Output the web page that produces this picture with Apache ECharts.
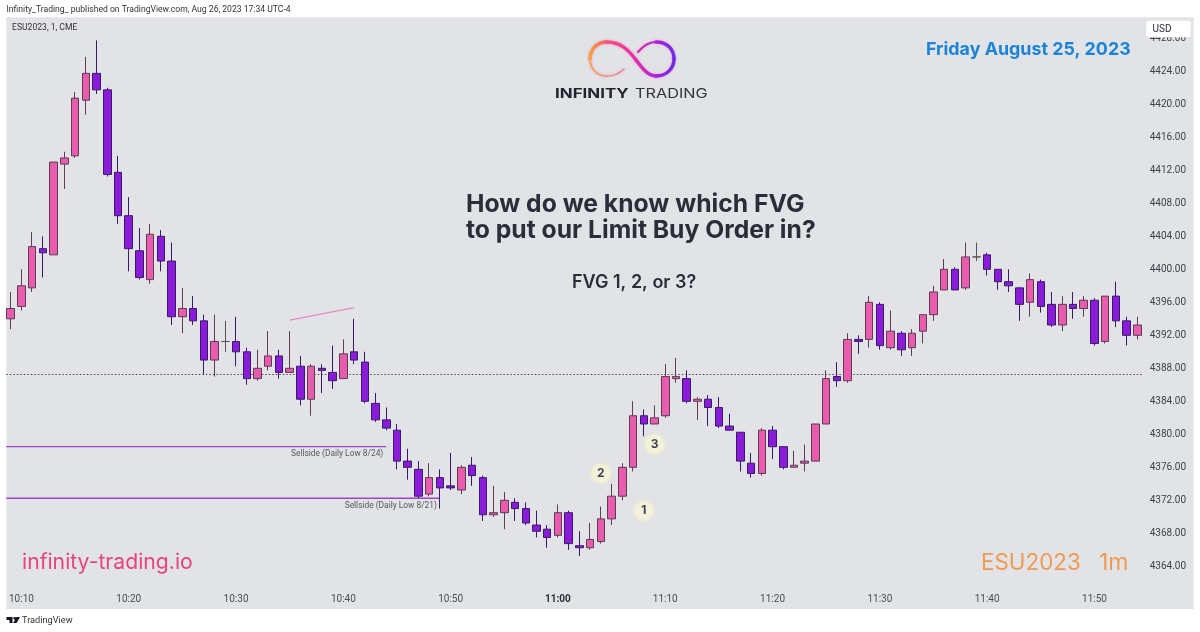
<!DOCTYPE html>
<html><head><meta charset="utf-8">
<style>html,body{margin:0;padding:0;background:#fff}#c{width:1200px;height:632px}</style>
<script src="https://cdn.jsdelivr.net/npm/echarts@6/dist/echarts.min.js"></script>
</head><body><div id="c"></div>
<script>
const times=["10:09","10:10","10:11","10:12","10:13","10:14","10:15","10:16","10:17","10:18","10:19","10:20","10:21","10:22","10:23","10:24","10:25","10:26","10:27","10:28","10:29","10:30","10:31","10:32","10:33","10:34","10:35","10:36","10:37","10:38","10:39","10:40","10:41","10:42","10:43","10:44","10:45","10:46","10:47","10:48","10:49","10:50","10:51","10:52","10:53","10:54","10:55","10:56","10:57","10:58","10:59","11:00","11:01","11:02","11:03","11:04","11:05","11:06","11:07","11:08","11:09","11:10","11:11","11:12","11:13","11:14","11:15","11:16","11:17","11:18","11:19","11:20","11:21","11:22","11:23","11:24","11:25","11:26","11:27","11:28","11:29","11:30","11:31","11:32","11:33","11:34","11:35","11:36","11:37","11:38","11:39","11:40","11:41","11:42","11:43","11:44","11:45","11:46","11:47","11:48","11:49","11:50","11:51","11:52","11:53","11:54"];
const opens=[4394,4395.5,4397.75,4402.5,4401.75,4412.75,4413.75,4420.5,4423.75,4421.75,4411.75,4406.5,4402.25,4398.75,4404,4401,4394.25,4395.25,4393.75,4389,4391.25,4391.25,4390,4386.75,4388.25,4389.5,4387.5,4388.25,4384.25,4388,4387.5,4386.75,4390,4388.75,4383.75,4381.75,4380.5,4376.75,4375.75,4372.75,4374.75,4373.75,4373.25,4376.25,4374.75,4370.25,4370.5,4371.75,4371,4369,4368.5,4367.75,4370.5,4366.5,4366.25,4367,4369.75,4372.5,4376,4382.25,4381.25,4382.25,4386.75,4386.75,4384,4384.25,4383.25,4381,4380.25,4376.5,4375.25,4380.5,4378.5,4376,4376.5,4376.75,4381.25,4387,4386.5,4391.5,4391.5,4395.75,4390.5,4392.25,4390.5,4392.5,4394.5,4397.5,4400,4397.75,4401.5,4401.75,4400,4398.5,4397.75,4396,4398.5,4395.75,4393.25,4395.75,4395.25,4396.25,4391.25,4396.75,4393.75,4392];
const closes=[4395.25,4398,4402.75,4402,4413,4413.5,4420.75,4423.75,4421.75,4411.5,4406.5,4402.5,4399,4404.25,4401,4394.25,4395.25,4393.75,4389,4391.25,4391.25,4390,4386.75,4388,4389.5,4387.5,4388,4384.25,4388.25,4387.75,4386.5,4389.75,4389,4384,4381.75,4380.75,4376.75,4376,4372.5,4374.75,4373.5,4373.5,4376,4375,4370.25,4370.5,4372,4371,4369.25,4368.25,4367.5,4370.5,4366.75,4366.25,4367.25,4369.75,4372.5,4376,4382.25,4381.25,4382,4387,4387,4384,4384.25,4383.25,4381,4380.5,4376.75,4375.25,4380.5,4378.5,4376,4376.25,4376.75,4381.25,4386.75,4386.5,4391.5,4391.25,4396,4390.75,4392.5,4390.25,4392.25,4394.5,4397.25,4400,4397.5,4401.5,4401.5,4400,4398.5,4398,4395.75,4398.75,4395.5,4393.25,4395.75,4395.25,4396.25,4391,4396.75,4393.75,4392,4393.25];
const lows=[4392.75,4395,4397.25,4399,4401.75,4409.75,4413.5,4418.75,4421.25,4411.25,4405.5,4399.75,4398.75,4398.25,4399.75,4393.25,4392.25,4393.25,4387.25,4387,4390,4388.25,4386,4386.5,4387.75,4386.75,4387.5,4383.5,4382.25,4385,4385.5,4386.75,4388.5,4383.75,4381.5,4380.5,4375.75,4374.5,4372.25,4372.5,4371,4373.25,4372.75,4373.75,4369.5,4370,4368.5,4369.5,4369,4367.5,4366.25,4367.5,4366,4365.25,4366,4366.75,4369,4372,4375.5,4379.75,4381.25,4382,4386.25,4383.75,4381.75,4381,4380.75,4380.5,4375.5,4374.75,4375,4377,4375.75,4376,4375.5,4376.75,4381.25,4385.75,4386.25,4389.75,4390.5,4390.25,4390.25,4389.5,4389.5,4391,4393.75,4397.5,4397.5,4397.5,4401,4399.25,4397.5,4397.25,4393.75,4394.25,4394.75,4393,4392.5,4394,4394.25,4390.75,4391,4393,4390.75,4391.5];
const highs=[4397.25,4400,4404.5,4404,4413,4414.25,4421.5,4425.75,4427.75,4422,4413.75,4408.75,4405,4405.5,4404.75,4403.25,4397.75,4396.75,4394.5,4394.5,4393.75,4394.25,4390.5,4390.25,4392.5,4390.25,4392.5,4389.5,4388.5,4388.5,4390.75,4391.5,4394,4390,4385,4383.25,4381.25,4378.25,4376.75,4376.5,4375.75,4377.75,4376.25,4377.25,4375,4373.75,4373,4372.25,4371.75,4370.75,4369,4371.5,4370.75,4368.25,4369.25,4371.25,4374,4376.5,4384,4383,4383.5,4388.5,4389.25,4387.75,4384.5,4384.75,4384.5,4382.5,4380.25,4377.75,4380.75,4381,4378.5,4378,4378.75,4381.25,4387.75,4388.75,4392.25,4392,4396.75,4396,4395,4392.5,4392.75,4394.5,4398,4401.25,4400.25,4403.25,4403.25,4402,4400,4400,4397.75,4399.5,4398.75,4397.25,4396.75,4397.25,4396.75,4396.5,4396.75,4398.5,4394.25,4394.25];
const lastPrice=4387.25;
const sellsideLevels=[4378.5,4372.25];
const sellsideEnds=["10:44","10:49"];
const sellsideNames=["Sellside (Daily Low 8/24)","Sellside (Daily Low 8/21)"];
const fvgLabels=["1","2","3"];
const fvgTimes=["11:08","11:04","11:09"];
const fvgPrices=[4370.75,4375.25,4378.75];
const trendTimes=["10:35","10:41"];
const trendPrices=[4393.85,4395.35];

const FONT='Inter';
const SMALL='Roboto';
const chart=echarts.init(document.getElementById('c'));
const txt=(x,y,text,size,color,weight,extra,fam)=>Object.assign({type:'text',x,y,z:100,silent:true,
  style:{text,font:`${weight||400} ${size}px ${fam||FONT}`,fill:color,verticalAlign:'middle'}},extra||{});
const mainGrad=new echarts.graphic.LinearGradient(590,0,675,0,[{offset:0,color:'#f9a23c'},{offset:0.22,color:'#f4527a'},{offset:0.5,color:'#ec2fa4'},{offset:0.75,color:'#b022d8'},{offset:1,color:'#6a2be8'}],true);
const thinGrad=new echarts.graphic.LinearGradient(590,0,624,0,[{offset:0,color:'#f9a23c'},{offset:1,color:'#f07a9a'}],true);
const curve=(pts,stroke,w)=>({type:'bezierCurve',z:100,silent:true,
  shape:{x1:pts[0],y1:pts[1],cpx1:pts[2],cpy1:pts[3],cpx2:pts[4],cpy2:pts[5],x2:pts[6],y2:pts[7]},
  style:{fill:null,stroke,lineWidth:w,lineCap:'round',shadowBlur:3,shadowColor:'rgba(236,80,190,0.45)'}});
chart.setOption({
  animation:false,
  backgroundColor:'#ffffff',
  textStyle:{fontFamily:FONT},
  grid:{left:5.35,top:38.3,width:1137.4,height:528,show:false},
  xAxis:{type:'category',data:times,boundaryGap:true,
    axisLine:{show:false},axisTick:{show:false},splitLine:{show:false},
    axisLabel:{interval:(i)=>(i-1)%10===0,margin:28,fontSize:10,color:'#4a4d55',fontFamily:SMALL,hideOverlap:false,
      formatter:(v)=>v==='11:00'?'{b|11:00}':v,rich:{b:{fontWeight:700,fontSize:10,color:'#2a2e39',fontFamily:SMALL}}}},
  yAxis:{type:'value',position:'right',min:4364,max:4428,interval:4,scale:true,
    axisLine:{show:false},axisTick:{show:false},splitLine:{show:false},
    axisLabel:{margin:7,fontSize:10,color:'#3f424a',fontFamily:SMALL,padding:[3,0,0,0],formatter:(v)=>v.toFixed(2)}},
  graphic:[
    {type:'rect',z:-100,silent:true,shape:{x:6.3,y:17.3,width:1187.4,height:591.7},style:{fill:'#e1e3e6'}},
    txt(6.5,10,'Infinity_Trading_ published on TradingView.com, Aug 26, 2023 17:34 UTC-4',8.6,'#333',400,null,SMALL),
    txt(12,28,'ESU2023, 1, CME',8.6,'#333',400,null,SMALL),
    {type:'rect',z:100,silent:true,shape:{x:1146.3,y:20.7,width:44.5,height:16.6,r:3},style:{fill:'#ffffff'}},
    txt(1152.5,29,'USD',10,'#2a2e39',400,{z:101},SMALL),
    txt(926,50,'Friday August 25, 2023',17.85,'#1b84d8',700),
    curve([590,59,590,49,597,42,607,42],mainGrad,3.4),
    curve([607,42,622,42,630,52,636,60],mainGrad,3.4),
    curve([636,60,642,68,648,76,656,76],mainGrad,3.4),
    curve([656,76,667,76,674,68,674,59],mainGrad,3.4),
    curve([674,59,674,49,667,42,656,42],mainGrad,3.4),
    curve([656,42,649,42,643,46,638,52],mainGrad,2.2),
    curve([590,59,590,69,597,76,607,76],thinGrad,1.6),
    curve([607,76,613,76,619,74,624,69],thinGrad,1.2),
    txt(555,94,'INFINITY',13,'#22252c',700,{scaleX:1.3}),
    txt(635,94,'TRADING',13,'#33363d',400,{scaleX:1.25}),
    txt(466,204.5,'How do we know which FVG',24.7,'#2a2e39',700),
    txt(466,231,'to put our Limit Buy Order in?',24.7,'#2a2e39',700),
    txt(572,283,'FVG 1, 2, or 3?',18,'#2a2e39',600),
    txt(22,563,'infinity-trading.io',21.2,'#e8437c',400),
    txt(981,563,'ESU2023',22.4,'#f09a52',400),
    txt(1099,563,'1m',23,'#f09a52',400),
    {type:'polygon',z:100,silent:true,shape:{points:[[6.5,617],[12.5,617],[12.5,623],[9.5,623],[9.5,620],[6.5,620]]},style:{fill:'#131722'}},
    {type:'polygon',z:100,silent:true,shape:{points:[[16.5,617],[20,617],[16.6,623],[13.2,623]]},style:{fill:'#131722'}},
    {type:'circle',z:100,silent:true,shape:{cx:14.8,cy:618.4,r:1.4},style:{fill:'#131722'}},
    txt(22,621,'TradingView',9.2,'#333',400,null,SMALL)
  ],
  series:[
    {type:'candlestick',name:'ESU2023',barWidth:8,z:5,
      data:times.map((t,i)=>[opens[i],closes[i],lows[i],highs[i]]),
      itemStyle:{color:'#e85cae',color0:'#8a1bd9',borderColor:'#5e3b56',borderColor0:'#3a1a68',borderColorDoji:'#555555',borderWidth:1},
      markLine:{silent:true,symbol:'none',animation:false,label:{show:false},
        data:[
          [{coord:[trendTimes[0],trendPrices[0]],lineStyle:{color:'#e88ac0',type:'solid',width:1.2}},{coord:[trendTimes[1],trendPrices[1]]}]
        ]}},
    {type:'custom',name:'Last price',z:3,silent:true,encode:{x:0,y:1},
      data:[[times[times.length-1],lastPrice]],
      renderItem:(params,api)=>{
        const p=api.coord([api.value(0),api.value(1)]);
        const half=api.size([1,0])[0]/2;
        const x0=api.coord([0,api.value(1)])[0]-half;
        return {type:'line',shape:{x1:Math.max(x0,6.3),y1:p[1],x2:p[0]+half,y2:p[1]},style:{stroke:'#4a4a4a',lineWidth:1,lineDash:[1.5,2]}};
      }},
    {type:'custom',name:'Sellside',z:4,silent:true,encode:{x:0,y:1},
      data:sellsideLevels.map((v,i)=>[sellsideEnds[i],v,sellsideNames[i]]),
      renderItem:(params,api)=>{
        const p=api.coord([api.value(0),api.value(1)]);
        const half=api.size([1,0])[0]/2;
        const x0=api.coord([0,api.value(1)])[0]-half;
        return {type:'group',children:[
          {type:'line',shape:{x1:Math.max(x0,6.3),y1:p[1],x2:p[0],y2:p[1]},style:{stroke:'#9b45cc',lineWidth:1.3}},
          {type:'text',x:p[0]-3,y:p[1]+7.5,style:{text:sellsideNames[params.dataIndex],fill:'#555860',font:`400 8.4px ${SMALL}`,align:'right',verticalAlign:'middle'}}
        ]};
      }},
    {type:'scatter',name:'FVG',z:8,silent:true,symbolSize:19,
      data:fvgLabels.map((l,i)=>({value:[fvgTimes[i],fvgPrices[i]],name:l})),
      itemStyle:{color:'#f6f3dc',borderColor:'rgba(244,240,200,0.75)',borderWidth:2.5},
      label:{show:true,position:'inside',formatter:(p)=>p.name,fontSize:12,fontWeight:700,color:'#15171e',fontFamily:FONT}}
  ]
});
</script></body></html>
